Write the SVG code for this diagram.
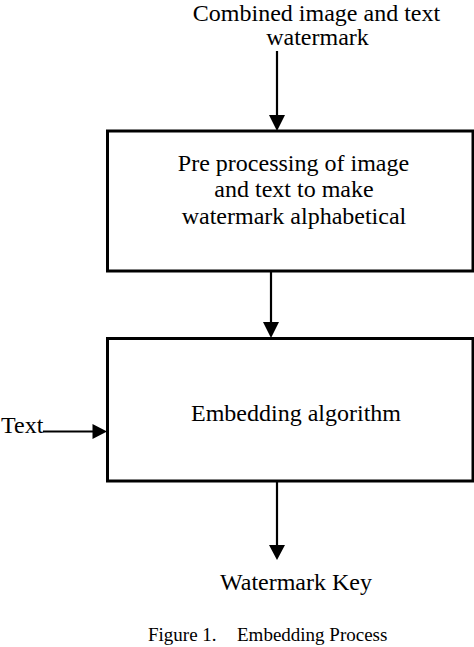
<svg xmlns="http://www.w3.org/2000/svg" width="474" height="647" viewBox="0 0 474 647">
<style>
.box{fill:#fff;stroke:#000;stroke-width:3}
.ln{stroke:#000;stroke-width:2.2;fill:none}
.hd{fill:#000}
text{font-family:"Liberation Serif","Times New Roman",serif;fill:#000}
.t{font-size:24px;text-anchor:middle}
.l{font-size:24px}
.cap{font-size:19px}
</style>
<rect width="474" height="647" fill="#fff"/>
<g id="input">
<text class="t" x="316.5" y="21">Combined image and text</text>
<text class="t" x="317.5" y="45">watermark</text>
</g>
<g id="preprocess">
<rect class="box" x="107.5" y="131" width="365.5" height="140"/>
<text class="t" x="293.5" y="171">Pre processing of image</text>
<text class="t" x="294" y="197">and text to make</text>
<text class="t" x="294" y="224">watermark alphabetical</text>
</g>
<g id="embedding">
<rect class="box" x="107.5" y="338.5" width="365.5" height="142.5"/>
<text class="t" x="296" y="421">Embedding algorithm</text>
</g>
<g id="text-input">
<text class="l" x="1" y="433">Text</text>
</g>
<g id="key">
<text class="t" x="296" y="590">Watermark Key</text>
</g>
<g id="connectors">
<line class="ln" x1="277" y1="51" x2="277" y2="118"/>
<polygon class="hd" points="269,115 285,115 277,131"/>
<line class="ln" x1="271" y1="271" x2="271" y2="325"/>
<polygon class="hd" points="263,322 279,322 271,338"/>
<line class="ln" x1="277" y1="481" x2="277" y2="548"/>
<polygon class="hd" points="269,545 285,545 277,560"/>
<line class="ln" x1="43" y1="431.5" x2="95" y2="431.5"/>
<polygon class="hd" points="92.5,424 92.5,439 107,431.5"/>
</g>
<g id="caption">
<text class="cap" x="148" y="641">Figure 1.</text>
<text class="cap" x="237" y="641">Embedding Process</text>
</g>
</svg>
